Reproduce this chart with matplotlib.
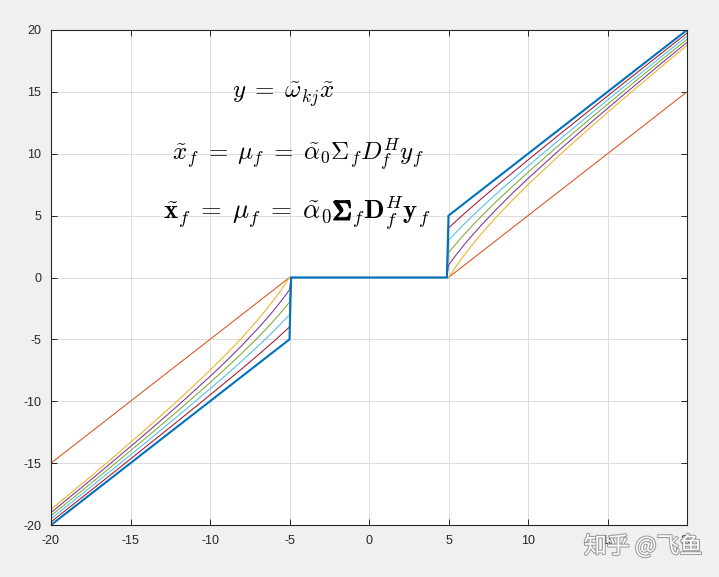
import matplotlib
matplotlib.use("Agg")
import matplotlib.pyplot as plt
import matplotlib.patheffects as pe
from matplotlib.transforms import Bbox
import numpy as np

plt.rcParams['axes.unicode_minus'] = False
plt.rcParams['mathtext.fontset'] = 'cm'

# positive-branch sample points (curves are odd-symmetric)
x_pos = [5.0, 5.5, 6.0, 6.5, 7.0, 8.0, 9.0, 10.0, 12.0, 14.0, 16.0, 18.0, 20.0]
hard   = [5.0, 5.5, 6.0, 6.5, 7.0, 8.0, 9.0, 10.0, 12.0, 14.0, 16.0, 18.0, 20.0]
soft   = [0.0, 0.5, 1.0, 1.5, 2.0, 3.0, 4.0, 5.0, 7.0, 9.0, 11.0, 13.0, 15.0]
yellow = [0.0, 0.95, 1.83, 2.65, 3.43, 4.88, 6.22, 7.5, 9.92, 12.21, 14.44, 16.61, 18.75]
purple = [1.0, 1.86, 2.67, 3.42, 4.14, 5.5, 6.78, 8.0, 10.33, 12.57, 14.75, 16.89, 19.0]
green  = [2.0, 2.77, 3.5, 4.19, 4.86, 6.13, 7.33, 8.5, 10.75, 12.93, 15.06, 17.17, 19.25]
cyan   = [3.0, 3.68, 4.33, 4.96, 5.57, 6.75, 7.89, 9.0, 11.17, 13.29, 15.38, 17.44, 19.5]
red    = [4.0, 4.59, 5.17, 5.73, 6.29, 7.38, 8.44, 9.5, 11.58, 13.64, 15.69, 17.72, 19.75]
dead_zone = [4.9]  # last sample inside the zero band

series = [
    (soft,   (0.850, 0.325, 0.098), 0.75),
    (yellow, (0.929, 0.694, 0.125), 0.75),
    (purple, (0.494, 0.184, 0.556), 0.75),
    (green,  (0.466, 0.674, 0.188), 0.75),
    (cyan,   (0.301, 0.745, 0.933), 0.75),
    (red,    (0.635, 0.078, 0.184), 0.75),
    (hard,   (0.000, 0.447, 0.741), 1.5),
]

def full_curve(xp, yp):
    xp = np.asarray(xp); yp = np.asarray(yp)
    dz = np.asarray(dead_zone)
    x = np.concatenate([-xp[::-1], -dz, dz, xp])
    y = np.concatenate([-yp[::-1], np.zeros(1), np.zeros(1), yp])
    return x, y

fig = plt.figure(figsize=(7.19, 5.77), dpi=100, facecolor='#F0F0F0')
ax = fig.add_axes([51/719, 52/577, 636/719, 495/577])
ax.set_facecolor('white')

for ys, col, lw in series:
    x, y = full_curve(x_pos, ys)
    ax.plot(x, y, color=col, lw=lw, solid_joinstyle='miter')

ax.set_xlim(-20, 20)
ax.set_ylim(-20, 20)
ticks = [-20, -15, -10, -5, 0, 5, 10, 15, 20]
ax.set_xticks(ticks)
ax.set_yticks(ticks)
ax.set_xticklabels([str(t) for t in ticks])
ax.set_yticklabels([str(t) for t in ticks])
ax.grid(True, color='#DCDCDC', lw=0.7)
ax.set_axisbelow(True)
ax.tick_params(direction='in', length=4, width=0.7, top=True, right=True,
               labelsize=9, colors='#262626', pad=7)
for lab in ax.get_xticklabels() + ax.get_yticklabels():
    lab.set_fontfamily('Liberation Sans')
for s in ax.spines.values():
    s.set_color('#262626')
    s.set_linewidth(0.8)

ax.text(-5.4, 14.45, r'$y\;=\;\tilde{\omega}_{kj}\tilde{x}$', fontsize=18,
        ha='center', va='baseline')
ax.text(-4.47, 9.45, r'$\tilde{x}_f\;=\;\mu_f\;=\;\tilde{\alpha}_0\Sigma_f D_f^H y_f$',
        fontsize=18, ha='center', va='baseline')

# third line: bold vectors/matrices; Sigma thickened with a stroke overlay
x_left = -12.95
y_base = 4.65
prefix = r'\tilde{\mathbf{x}}_f\;=\;\mu_f\;=\;\tilde{\alpha}_0'
full3 = '$' + prefix + r'\mathbf{\Sigma}_f \mathbf{D}_f^H \mathbf{y}_f$'
ax.text(x_left, y_base, full3, fontsize=19.3, ha='left', va='baseline')

renderer = fig.canvas.get_renderer()
t_pre = ax.text(x_left, y_base, '$' + prefix + '$', fontsize=19.3,
                ha='left', va='baseline')
x1_pre = t_pre.get_window_extent(renderer).x1
t_pre.remove()
t_sig = ax.text(x_left, y_base, '$' + prefix + r'\Sigma$', fontsize=19.3,
                ha='left', va='baseline',
                path_effects=[pe.Stroke(linewidth=1.0, foreground='black'),
                              pe.Normal()])
x1_sig = t_sig.get_window_extent(renderer).x1
t_sig.set_clip_box(Bbox([[x1_pre + 0.5, 0], [x1_sig + 1.5, 2000]]))
t_sig.set_clip_on(True)

fig.text(643/719, 1 - 546/577, '知乎 @飞鱼', fontsize=16.5, color='white',
         family=['Noto Sans CJK SC', 'DejaVu Sans'], ha='center', va='center',
         path_effects=[pe.withStroke(linewidth=1.5, foreground='#9A9A9A')])

fig.savefig('out.png', dpi=100, facecolor=fig.get_facecolor())
